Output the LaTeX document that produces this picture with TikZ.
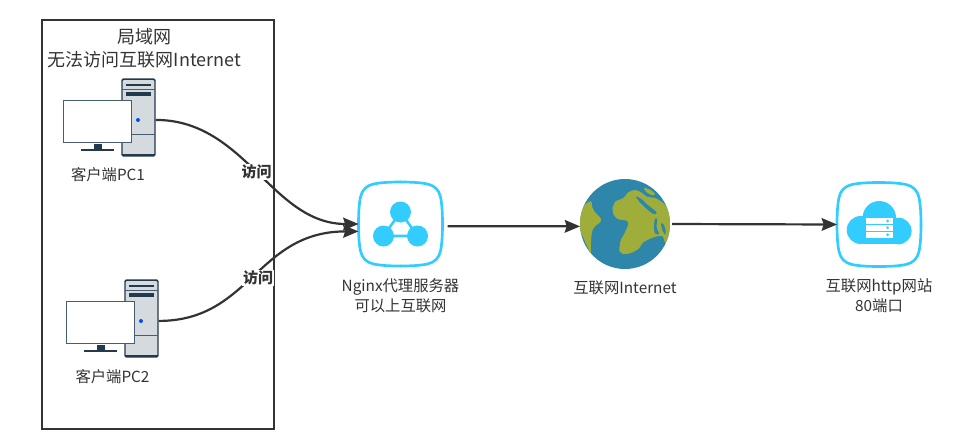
\documentclass[tikz,border=0pt]{standalone}
\usepackage{fontspec}
\setmainfont{Noto Sans CJK SC}
\usetikzlibrary{arrows.meta}
\usetikzlibrary{positioning}
\definecolor{ink}{HTML}{333333}
\definecolor{iconblue}{HTML}{33CCFF}
\definecolor{towerdark}{HTML}{23394D}
\definecolor{towerfill}{HTML}{D5DADF}
\definecolor{monitorline}{HTML}{475D71}
\definecolor{ocean}{HTML}{2F86AB}
\definecolor{land}{HTML}{9FAE3A}
\tikzset{
  link/.style={draw=ink, line width=1.65pt, -{Stealth[length=11.5pt, width=9.5pt, inset=1.5pt]}},
  lanbox/.style={draw=ink, line width=1.5pt, minimum width=174pt, minimum height=306.75pt, inner sep=0},
  caption/.style={text=ink, inner sep=0, align=center, font=\fontsize{11.5pt}{15pt}\selectfont},
  lantitle/.style={text=ink, inner sep=0, align=center, font=\fontsize{13.5pt}{17.25pt}\selectfont},
  visit/.style={text=ink, fill=white, inner sep=0.75pt, font=\fontsize{11.25pt}{13pt}\selectfont\bfseries},
  iconbox/.style={minimum size=63pt, inner sep=0, outer sep=0},
  towerbox/.style={draw=towerdark, fill=towerfill, line width=1.1pt, rounded corners=1pt, minimum width=24.75pt, minimum height=57.5pt, inner sep=0},
  monitorbox/.style={draw=monitorline, fill=white, line width=1.25pt, minimum width=51pt, minimum height=31.5pt, inner sep=0},
  earth/.style={circle, fill=ocean, minimum size=67.5pt, inner sep=0, outer sep=0},
  client/.pic={
    \node[towerbox] (-tower) at (75.5,38.5) {};
    \draw[towerdark, line width=1.5pt] (63,5.5) -- (88,5.5);
    \draw[towerdark, line width=3pt] (63,15) -- (88,15);
    \draw[monitorline, line width=0.75pt] (59,10) -- (92,10);
    \draw[monitorline, line width=0.75pt] (59,55) -- (92,55);
    \draw[towerdark, line width=2pt] (60,76) -- (91,76);
    \fill[blue!70!cyan] (75,41) circle (2);
    \node[monitorbox] (-monitor) at (34.5,42.5) {};
    \fill[towerdark] (31,64.5) rectangle (39,70.5);
    \fill[towerdark] (18,70) rectangle (51,72);
  },
  % corners of the blue frames, one quarter at a time
  iconframe/.pic={
    \foreach \a in {0,90,180,270}
      \draw[iconblue, line width=2pt, line cap=round, rotate=\a] (0,-42)
        .. controls (10,-42) and (20,-41.5) .. (27,-40)
        .. controls (34,-38.5) and (38.5,-34) .. (40,-27)
        .. controls (41.5,-20) and (42,-10) .. (42,0);
  },
}
\begin{document}
\begin{tikzpicture}[x=0.75pt, y=-0.75pt]
  \useasboundingbox (0,0) rectangle (979,447);

  \node[lanbox] (lan) at (158,224) {};
  \node[lantitle] (lantext) at (144.5,48.5) {局域网\\无法访问互联网Internet};

  \pic (pc1) at (63,79) {client};
  \node[caption] (pc1text) at (108,175) {客户端PC1};
  \pic (pc2) at (66,280) {client};
  \node[caption] (pc2text) at (112.5,376.5) {客户端PC2};

  \node[iconbox] (nginx) at (400.5,224) {};
  \pic at (nginx) {iconframe};
  \node[caption, below=9pt of nginx] (nginxtext) {Nginx代理服务器\\可以上互联网};
  \begin{scope}[shift={(nginx.center)}]
    \draw[iconblue, line width=1.9pt] (0,-12) -- (-17,12) -- (17,12) -- cycle;
    \fill[iconblue] (0,-12) circle (10.5) (-17,12) circle (10.5) (17,12) circle (10.5);
  \end{scope}

  \node[earth] (globe) at (625,224) {};
  \node[caption, below=9pt of globe] (globetext) {互联网Internet};
  \begin{scope}[shift={(625,224)}, x=0.25pt, y=-0.25pt]
    \clip (0,0) circle (135);
    \begin{scope}[shift={(-150,-150)}]
      \fill[land] plot[smooth cycle, tension=0.5] coordinates {(48,82) (52,100) (58,112) (70,125) (78,135) (75,145) (62,155) (52,170) (48,200) (47,238) (38,220) (22,185) (12,160) (12,130) (22,105) (32,90)};
      \fill[land] plot[smooth cycle, tension=0.4] coordinates {(113,100) (122,82) (145,72) (160,55) (180,48) (200,56) (215,68) (240,72) (262,85) (290,115) (295,150) (290,180) (272,208) (262,186) (235,190) (205,205) (190,225) (165,238) (145,240) (133,230) (137,200) (150,175) (160,150) (155,140) (128,135) (115,120)};
      \fill[land] plot[smooth cycle, tension=0.5] coordinates {(207,42) (225,47) (240,60) (232,64) (215,55)};
      \fill[ocean] plot[smooth cycle, tension=0.5] coordinates {(183,68) (200,75) (215,90) (245,115) (235,120) (210,100) (195,85)};
      \fill[ocean] plot[smooth cycle, tension=0.5] coordinates {(240,135) (246,135) (245,160) (252,180) (240,178) (237,155)};
      \fill[ocean] plot[smooth cycle, tension=0.5] coordinates {(258,150) (265,150) (272,170) (270,182) (263,170)};
    \end{scope}
  \end{scope}

  \node[iconbox] (web) at (879,224.5) {};
  \pic at (web) {iconframe};
  \node[caption, below=9pt of web] (webtext) {互联网http网站\\80端口};
  \fill[iconblue] (860.7,230) circle (14) (879.3,217.7) circle (16.7) (898.3,231) circle (13.3);
  \fill[iconblue] (860.7,230) rectangle (898.3,244.3);
  \fill[white] (866,218) rectangle (892.7,224);
  \fill[white] (866,225) rectangle (892.7,230.5);
  \fill[white] (866,232) rectangle (892.7,237.5);
  \foreach \y in {221,227.75,234.75}
    \fill[iconblue] (887.7,\y) circle (1.5);

  \draw[link] (pc1-tower.-8) .. controls +(90,0) and +(-87,0) .. (nginx.west) node[visit, pos=0.5, xshift=-1.2pt] (visit1) {访问};
  \draw[link] (pc2-tower.-8) .. controls +(92,0) and +(-102,0) .. (nginx.190) node[visit, pos=0.5, xshift=2.4pt, yshift=-1.5pt] (visit2) {访问};
  \draw[link, shorten <=3.75pt] (nginx.-3) -- (globe.183);
  \draw[link, shorten <=1.5pt] (globe.east) -- (web.west);
\end{tikzpicture}
\end{document}
